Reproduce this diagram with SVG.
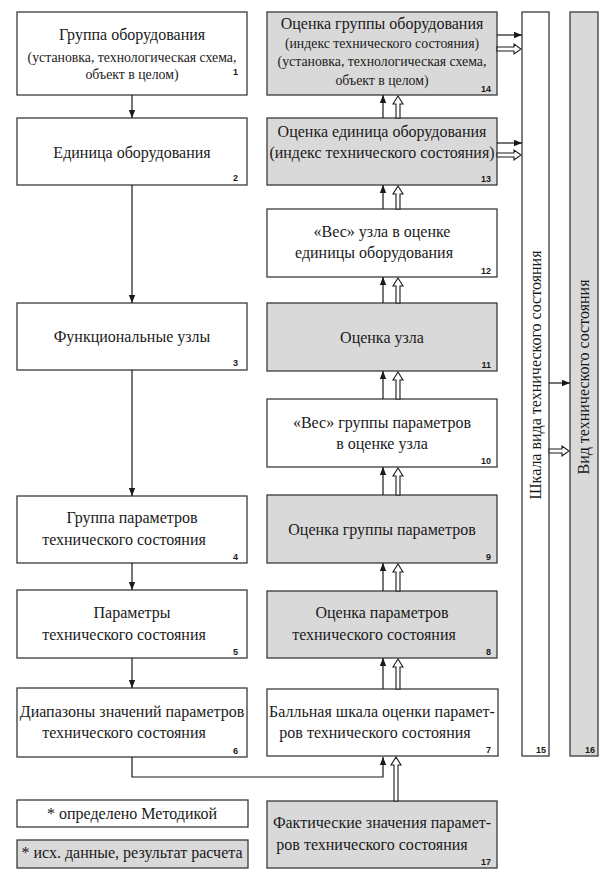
<svg xmlns="http://www.w3.org/2000/svg" width="609" height="882" viewBox="0 0 609 882">
<style>
  .box { fill: #ffffff; stroke: #3a3a3a; stroke-width: 1.3; }
  .gray { fill: #d9d9d9; }
  .t { font-family: 'Liberation Serif', 'Times New Roman', 'DejaVu Serif', serif; font-size: 16px; fill: #1a1a1a; text-anchor: middle; }
  .s { font-size: 13.8px; }
  .n { font-family: 'Liberation Sans', Arial, sans-serif; font-size: 9px; font-weight: bold; fill: #1a1a1a; text-anchor: end; }
  .ln { fill: none; stroke: #1a1a1a; stroke-width: 1.2; marker-end: url(#ah); }
  .ha { fill: #ffffff; stroke: #1a1a1a; stroke-width: 1.1; }
</style>
<defs>
  <marker id="ah" viewBox="0 0 10 10" refX="10" refY="5" markerWidth="8" markerHeight="8" markerUnits="userSpaceOnUse" orient="auto">
    <path d="M0,1 L10,5 L0,9 z" fill="#1a1a1a"/>
  </marker>
</defs>

<g id="n1"><rect class="box" x="17" y="12" width="230" height="83"/>
  <text class="t" font-family="Liberation Serif, serif" x="132" y="40">Группа оборудования</text>
  <text class="t s" x="132" y="62">(установка, технологическая схема,</text>
  <text class="t s" x="132" y="79">объект в целом)</text>
  <text class="n" x="238" y="75">1</text></g>
<g id="n2"><rect class="box" x="17" y="118" width="230" height="67"/>
  <text class="t" x="132" y="158">Единица оборудования</text>
  <text class="n" x="238" y="181">2</text></g>
<g id="n3"><rect class="box" x="17" y="303" width="230" height="67"/>
  <text class="t" x="132" y="342">Функциональные узлы</text>
  <text class="n" x="238" y="366">3</text></g>
<g id="n4"><rect class="box" x="17" y="496" width="230" height="67"/>
  <text class="t" x="132" y="523">Группа параметров</text>
  <text class="t" x="124" y="545">технического состояния</text>
  <text class="n" x="238" y="560">4</text></g>
<g id="n5"><rect class="box" x="17" y="590" width="230" height="68"/>
  <text class="t" x="132" y="618">Параметры</text>
  <text class="t" x="124" y="640">технического состояния</text>
  <text class="n" x="238" y="655">5</text></g>
<g id="n6"><rect class="box" x="17" y="688" width="230" height="69"/>
  <text class="t" x="132" y="717">Диапазоны значений параметров</text>
  <text class="t" x="124" y="738">технического состояния</text>
  <text class="n" x="238" y="754">6</text></g>
<g id="legend1"><rect class="box" x="17" y="800" width="231" height="27"/>
  <text class="t" x="132" y="819">* определено Методикой</text></g>
<g id="legend2"><rect class="box gray" x="17" y="840" width="231" height="28"/>
  <text class="t" x="132" y="858">* исх. данные, результат расчета</text></g>

<g id="n14"><rect class="box gray" x="267" y="12" width="230" height="83"/>
  <text class="t" x="382" y="29">Оценка группы оборудования</text>
  <text class="t s" x="382" y="48">(индекс технического состояния)</text>
  <text class="t s" x="382" y="66">(установка, технологическая схема,</text>
  <text class="t s" x="382" y="85">объект в целом)</text>
  <text class="n" x="491" y="92">14</text></g>
<g id="n13"><rect class="box gray" x="267" y="118" width="230" height="67"/>
  <text class="t" x="382" y="137">Оценка единица оборудования</text>
  <text class="t" x="382" y="158">(индекс технического состояния)</text>
  <text class="n" x="491" y="182">13</text></g>
<g id="n12"><rect class="box" x="267" y="209" width="230" height="68"/>
  <text class="t" x="382" y="237">«Вес» узла в оценке</text>
  <text class="t" x="374" y="258">единицы оборудования</text>
  <text class="n" x="491" y="274">12</text></g>
<g id="n11"><rect class="box gray" x="267" y="303" width="230" height="68"/>
  <text class="t" x="382" y="343">Оценка узла</text>
  <text class="n" x="491" y="368">11</text></g>
<g id="n10"><rect class="box" x="267" y="399" width="230" height="68"/>
  <text class="t" x="382" y="428">«Вес» группы параметров</text>
  <text class="t" x="382" y="449">в оценке узла</text>
  <text class="n" x="491" y="464">10</text></g>
<g id="n9"><rect class="box gray" x="267" y="495" width="230" height="68"/>
  <text class="t" x="382" y="535">Оценка группы параметров</text>
  <text class="n" x="491" y="560">9</text></g>
<g id="n8"><rect class="box gray" x="267" y="591" width="230" height="67"/>
  <text class="t" x="382" y="618">Оценка параметров</text>
  <text class="t" x="374" y="640">технического состояния</text>
  <text class="n" x="491" y="655">8</text></g>
<g id="n7"><rect class="box" x="267" y="689" width="231" height="67"/>
  <text class="t" x="382" y="717">Балльная шкала оценки парамет-</text>
  <text class="t" x="375" y="738">ров технического состояния</text>
  <text class="n" x="491" y="753">7</text></g>
<g id="n17"><rect class="box gray" x="267" y="801" width="230" height="67"/>
  <text class="t" x="382" y="828">Фактические значения парамет-</text>
  <text class="t" x="372" y="850">ров технического состояния</text>
  <text class="n" x="491" y="865">17</text></g>

<g id="n15"><rect class="box" x="522" y="12" width="27" height="744"/>
  <text class="t" transform="translate(541,375) rotate(-90)">Шкала вида технического состояния</text>
  <text class="n" x="546" y="753">15</text></g>
<g id="n16"><rect class="box gray" x="570" y="12" width="28" height="744"/>
  <text class="t" transform="translate(589,377) rotate(-90)">Вид технического состояния</text>
  <text class="n" x="595" y="753">16</text></g>

<g id="connectors">
  <line class="ln" x1="132" y1="95" x2="132" y2="118"/>
  <line class="ln" x1="132" y1="185" x2="132" y2="303"/>
  <line class="ln" x1="132" y1="370" x2="132" y2="496"/>
  <line class="ln" x1="132" y1="563" x2="132" y2="590"/>
  <line class="ln" x1="132" y1="658" x2="132" y2="688"/>
  <polyline class="ln" points="132,757 132,777 383,777 383,757"/>

  <line class="ln" x1="383" y1="118" x2="383" y2="95"/>
  <line class="ln" x1="383" y1="209" x2="383" y2="185"/>
  <line class="ln" x1="383" y1="303" x2="383" y2="277"/>
  <line class="ln" x1="383" y1="399" x2="383" y2="371"/>
  <line class="ln" x1="383" y1="495" x2="383" y2="467"/>
  <line class="ln" x1="383" y1="591" x2="383" y2="563"/>
  <line class="ln" x1="383" y1="689" x2="383" y2="658"/>

  <polygon class="ha" points="398,96 403,104 400,104 400,118 396,118 396,104 393,104"/>
  <polygon class="ha" points="398,186 403,194 400,194 400,209 396,209 396,194 393,194"/>
  <polygon class="ha" points="398,278 403,286 400,286 400,303 396,303 396,286 393,286"/>
  <polygon class="ha" points="398,372 403,380 400,380 400,399 396,399 396,380 393,380"/>
  <polygon class="ha" points="398,468 403,476 400,476 400,495 396,495 396,476 393,476"/>
  <polygon class="ha" points="398,564 403,572 400,572 400,591 396,591 396,572 393,572"/>
  <polygon class="ha" points="398,659 403,667 400,667 400,689 396,689 396,667 393,667"/>
  <polygon class="ha" points="396,757 401,765 398,765 398,801 394,801 394,765 391,765"/>

  <line class="ln" x1="497" y1="35" x2="522" y2="35"/>
  <line class="ln" x1="497" y1="143" x2="522" y2="143"/>
  <line class="ln" x1="549" y1="383" x2="570" y2="383"/>
  <polygon class="ha" points="497,47 514,47 514,44 521,49 514,54 514,51 497,51"/>
  <polygon class="ha" points="497,153 514,153 514,150 521,155 514,160 514,157 497,157"/>
  <polygon class="ha" points="549,449 562,449 562,446 569,451 562,456 562,453 549,453"/>
</g>
</svg>
